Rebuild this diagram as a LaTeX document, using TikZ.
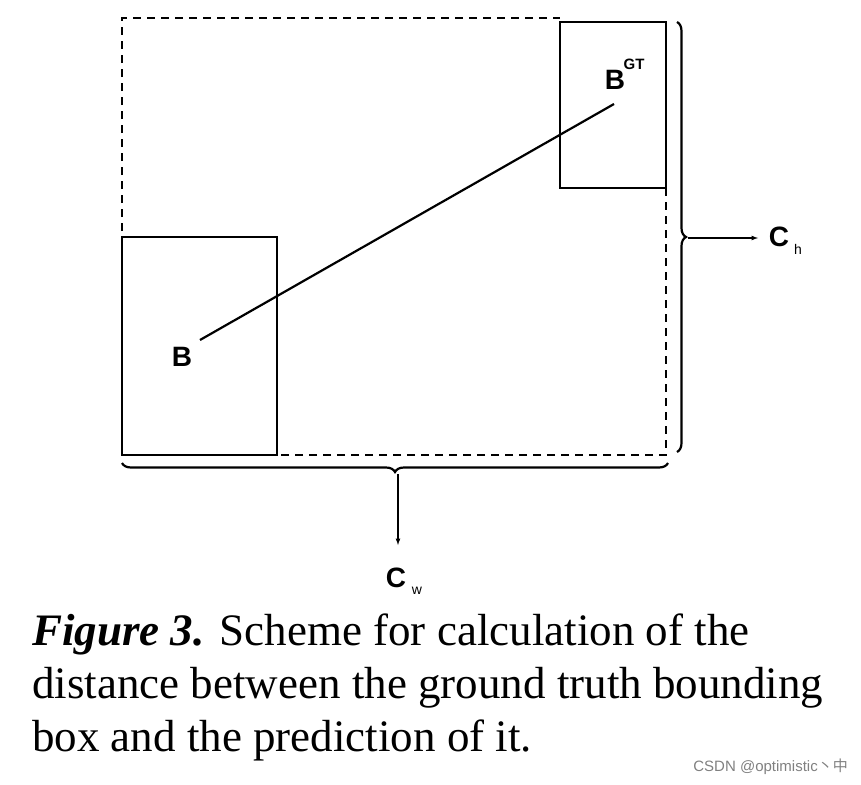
\documentclass[tikz,border=0pt]{standalone}
\usepackage{fontspec}
\setmainfont{Liberation Serif}
\newfontfamily\lab{Liberation Sans}
\newfontfamily\cjk{Noto Sans CJK SC}
\usetikzlibrary{decorations.pathreplacing}
\begin{document}
\begin{tikzpicture}[x=1pt,y=-1pt,
  boxs/.style={draw,line width=2.2pt},
  dsh/.style={draw,line width=2.2pt,dash pattern=on 8pt off 6pt},
  brc/.style={draw,line width=2.2pt,decorate,decoration={brace,amplitude=9pt}},
  lbl/.style={font=\lab\bfseries\fontsize{28}{32}\selectfont,inner sep=0},
  captxt/.style={anchor=base west,inner sep=0,font=\fontsize{45}{52}\selectfont}]
\useasboundingbox (0,0) rectangle (861,784);
\draw[dsh] (122,455) -- (122,18) -- (560,18);
\draw[dsh] (666,188) -- (666,455) -- (277,455);
\draw[boxs] (560,22) rectangle (666,188);
\draw[boxs] (122,237) rectangle (277,455);
\node[lbl] (b) at (182,357) {B};
\node[lbl] (bgt) at (615,80) {B};
\node[inner sep=0,font=\lab\bfseries\fontsize{15}{18}\selectfont] (gt) at (634,64) {GT};
\coordinate (p) at (200,340);
\coordinate (q) at (614,104);
\draw[line width=2.2pt] (p) -- (q);
\draw[brc] (677,22) -- (677,452);
\coordinate (rt) at (688,238);
\node[lbl] (ch) at (779,237) {C};
\node[inner sep=0,font=\lab\fontsize{14}{16}\selectfont] at (798,249) {h};
\draw[line width=1.2pt,-latex] (rt) -- (758,238);
\draw[brc] (668,463) -- (122,463);
\coordinate (bt) at (398,474);
\node[lbl] (cw) at (396,578) {C};
\node[inner sep=0,font=\lab\fontsize{14}{16}\selectfont] at (417,591) {w};
\draw[line width=1.2pt,-latex] (bt) -- (398,545);
\node[captxt] (c1) at (32,645) {\textbf{\textit{Figure 3.}} Scheme for calculation of the};
\node[captxt] (c2) at (32,698) {distance between the ground truth bounding};
\node[captxt] (c3) at (32,751) {box and the prediction of it.};
\node[anchor=base east,inner sep=0,text=gray,font=\lab\fontsize{15}{18}\selectfont] (wm) at (848,771) {CSDN @optimistic{\cjk 丶中}};
\end{tikzpicture}
\end{document}
